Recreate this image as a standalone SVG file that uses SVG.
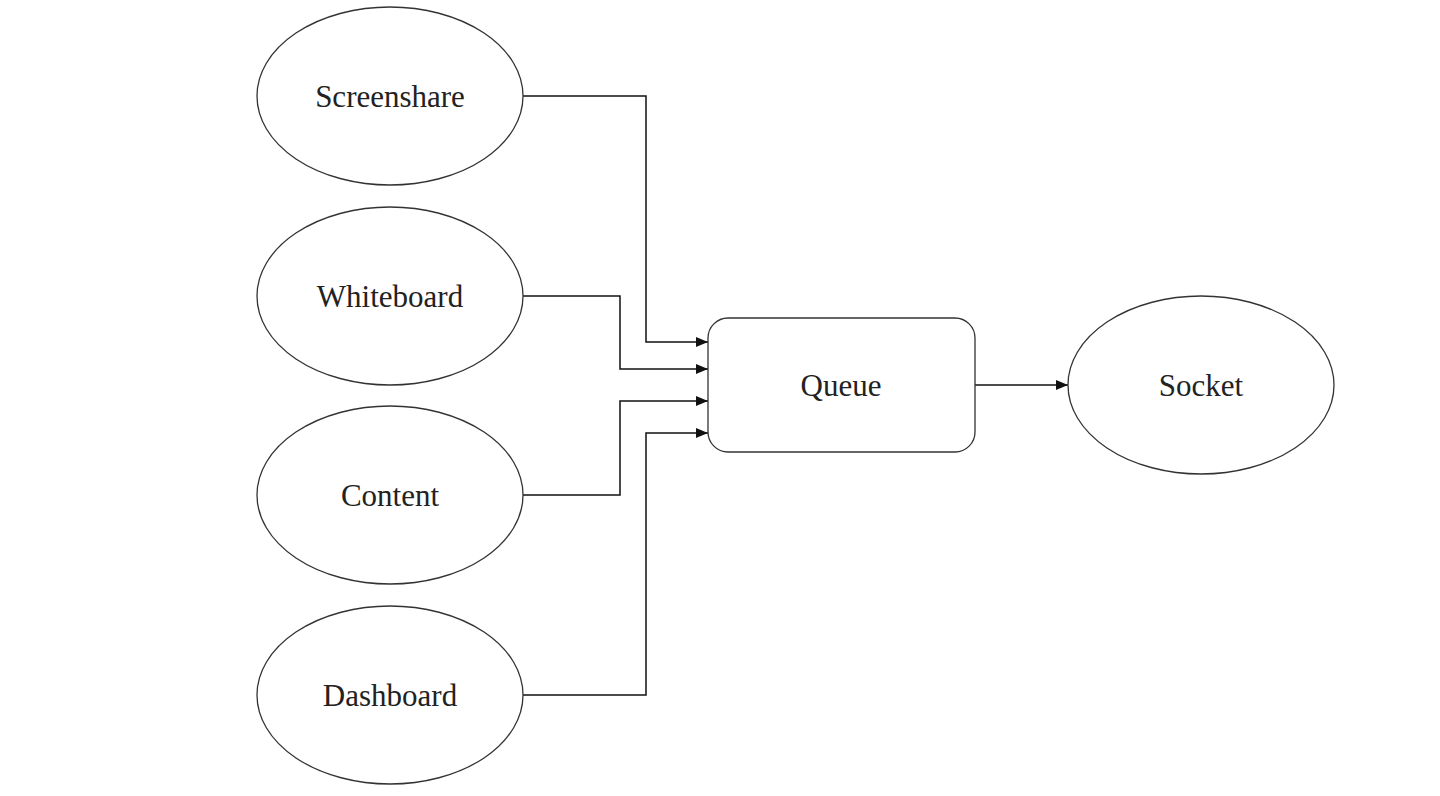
<svg xmlns="http://www.w3.org/2000/svg" width="1440" height="796" viewBox="0 0 1440 796">
<style>
.n{fill:#fff;stroke:#333;stroke-width:1.3}
.t{font-family:"Liberation Serif",serif;font-size:31px;fill:#222;text-anchor:middle;dominant-baseline:central}
.c{fill:none;stroke:#111;stroke-width:1.5}
</style>
<defs><marker id="a" markerWidth="12" markerHeight="10" refX="12" refY="5" orient="auto" markerUnits="userSpaceOnUse"><path d="M0,0L12,5L0,10z" fill="#111"/></marker></defs>
<rect width="1440" height="796" fill="#fff"/>
<g id="connectors">
<path class="c" d="M523,96H646V342H708" marker-end="url(#a)"/>
<path class="c" d="M523,296H620V369H708" marker-end="url(#a)"/>
<path class="c" d="M523,495H620V401H708" marker-end="url(#a)"/>
<path class="c" d="M523,695H646V433H708" marker-end="url(#a)"/>
<path class="c" d="M975,385H1068" marker-end="url(#a)"/>
</g>
<g id="screenshare"><ellipse class="n" cx="390" cy="96" rx="133" ry="89"/><text class="t" x="390" y="96">Screenshare</text></g>
<g id="whiteboard"><ellipse class="n" cx="390" cy="296" rx="133" ry="89"/><text class="t" x="390" y="296">Whiteboard</text></g>
<g id="content"><ellipse class="n" cx="390" cy="495" rx="133" ry="89"/><text class="t" x="390" y="495">Content</text></g>
<g id="dashboard"><ellipse class="n" cx="390" cy="695" rx="133" ry="89"/><text class="t" x="390" y="695">Dashboard</text></g>
<g id="queue"><rect class="n" x="708" y="318" width="267" height="134" rx="20"/><text class="t" x="841" y="385">Queue</text></g>
<g id="socket"><ellipse class="n" cx="1201" cy="385" rx="133" ry="89"/><text class="t" x="1201" y="385">Socket</text></g>
</svg>
